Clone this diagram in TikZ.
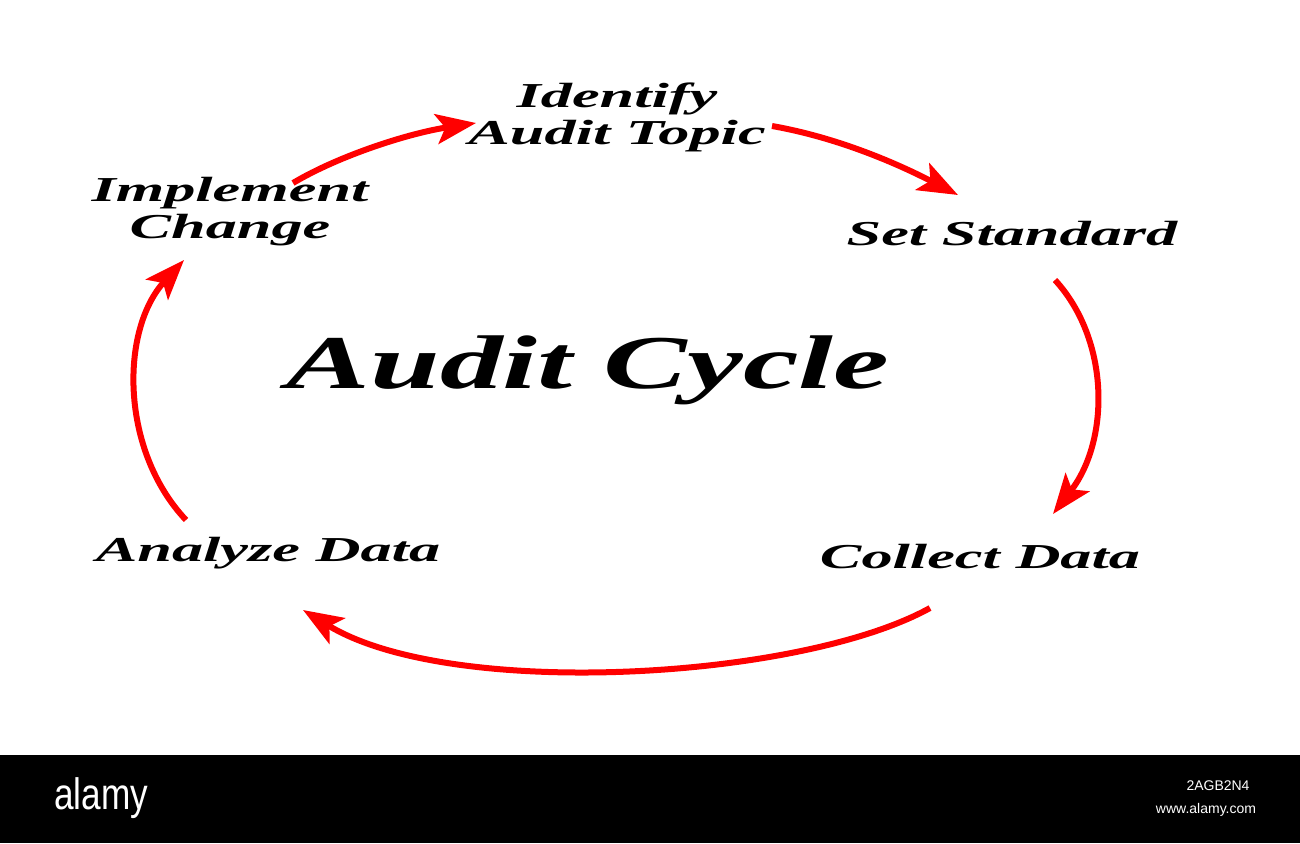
\documentclass[tikz,border=0pt]{standalone}
\usepackage{fontspec}
\setmainfont{Liberation Serif}
\newfontfamily\alsans{Liberation Sans}
\usetikzlibrary{arrows.meta}
\tikzset{
  lbl/.style={font=\fontsize{35}{37}\selectfont\bfseries\itshape, align=center, inner sep=0},
  cyc/.style={draw=red, line width=6pt, -{Stealth[length=40pt,width=30pt,inset=9pt]}}
}
\newcommand{\wide}[1]{\scalebox{1.78}[1]{#1}}
\begin{document}
\begin{tikzpicture}[x=1pt,y=-1pt]
\useasboundingbox (0,0) rectangle (1300,843);
\fill[white] (0,0) rectangle (1300,755);
\node[lbl] (id) at (617,117) {\wide{Identify}\\\wide{Audit Topic}};
\node[lbl] (im) at (230,212) {\wide{Implement}\\\wide{Change}};
\node[lbl] (ss) at (1012,234) {\wide{Set Standard}};
\node[lbl] (ad) at (268,553) {\wide{Analyze Data}};
\node[lbl] (cd) at (980,557) {\wide{Collect Data}};
\node[inner sep=0, font=\fontsize{76}{80}\selectfont\bfseries\itshape] (ac) at (588,370) {\scalebox{1.65}[1]{Audit Cycle}};
\coordinate (a1s) at (293,183); \coordinate (a1e) at (476,123);
\coordinate (a2s) at (772,126); \coordinate (a2e) at (958,195);
\coordinate (a3s) at (1055,280); \coordinate (a3e) at (1053,514);
\coordinate (a4s) at (930,608); \coordinate (a4e) at (303,610);
\coordinate (a5s) at (186,520); \coordinate (a5e) at (184,260);
\draw[cyc] (a1s) .. controls (340,155) and (410,133) .. (a1e);
\draw[cyc] (a2s) .. controls (840,138) and (900,165) .. (a2e);
\draw[cyc] (a3s) .. controls (1110,340) and (1110,440) .. (a3e);
\draw[cyc] (a4s) .. controls (800,680) and (450,700) .. (a4e);
\draw[cyc] (a5s) .. controls (120,450) and (120,330) .. (a5e);
\fill[black] (0,755) rectangle (1300,843);
\node[text=white, font=\alsans\fontsize{44}{44}\selectfont, inner sep=0] (al) at (101,798) {\scalebox{0.8}[1]{alamy}};
\node[text=white, font=\alsans\fontsize{14}{16}\selectfont, inner sep=0] (c1) at (1218,786) {2AGB2N4};
\node[text=white, font=\alsans\fontsize{14}{16}\selectfont, inner sep=0] (c2) at (1206,810) {www.alamy.com};
\end{tikzpicture}
\end{document}
